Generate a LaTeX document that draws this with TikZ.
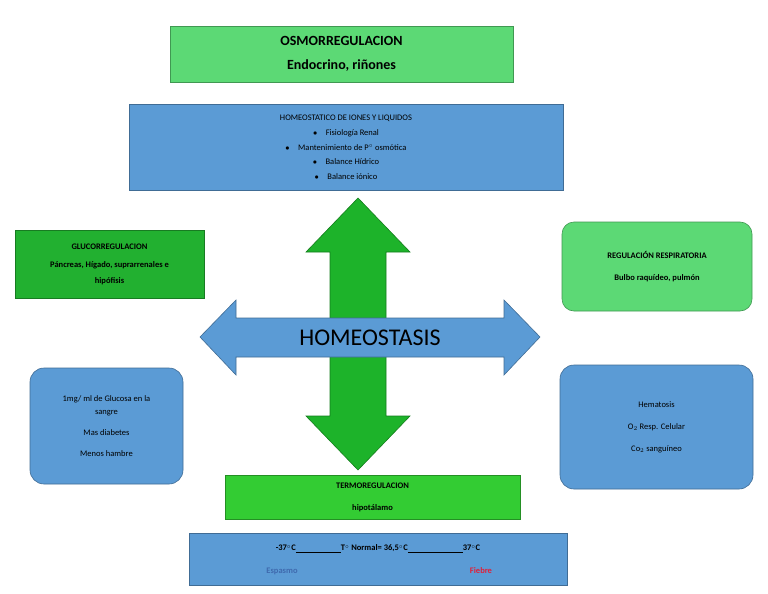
\documentclass[tikz,border=0pt]{standalone}
\usepackage{fontspec}
\setmainfont{Carlito}
\begin{document}
\begin{tikzpicture}[x=1pt,y=-1pt,
 box/.style={draw=#1!70!black,line width=0.6pt,fill=#1,align=center,inner sep=0pt},
 sm/.style={font=\fontsize{9}{13}\selectfont},
]
\definecolor{gA}{HTML}{5CD975}
\definecolor{gB}{HTML}{22B030}
\definecolor{gC}{HTML}{33CC33}
\definecolor{bl}{HTML}{5B9BD5}
\definecolor{ar}{HTML}{1DB32A}
\definecolor{fb}{HTML}{E0203A}
\definecolor{es}{HTML}{3F6AAE}
\useasboundingbox (0,0) rectangle (768,594);
\fill[white] (0,0) rectangle (768,594);
% boxes
\node[box=gA,minimum width=343pt,minimum height=56pt,font=\bfseries\fontsize{14}{24}\selectfont] (osmo) at (341.5,54) {OSMORREGULACION\\Endocrino, riñones};
\node[box=bl,minimum width=434pt,minimum height=86pt,sm] (homi) at (346,147) {};
\node[sm,align=center,font=\fontsize{8.5}{14.5}\selectfont] (homit) at (346,147) {HOMEOSTATICO DE IONES Y LIQUIDOS\\[1pt]
$\bullet$\quad Fisiología Renal\\$\bullet$\quad Mantenimiento de P$^{\circ}$ osmótica\\$\bullet$\quad Balance Hídrico\\$\bullet$\quad Balance iónico};
\node[box=gB,minimum width=189pt,minimum height=68pt,sm,font=\bfseries\fontsize{8.5}{16}\selectfont] (glu) at (109.5,264) {GLUCORREGULACION\\[2pt]Páncreas, Hígado, suprarrenales e\\hipófisis};
\node[box=gA,rounded corners=12pt,minimum width=190pt,minimum height=89pt,font=\bfseries\fontsize{8.5}{22}\selectfont] (resp) at (657,266.5) {REGULACIÓN RESPIRATORIA\\Bulbo raquídeo, pulmón};
\node[box=bl,rounded corners=14pt,minimum width=153pt,minimum height=116pt,font=\fontsize{8.5}{13}\selectfont] (glc) at (106.5,426) {1mg/ ml de Glucosa en la\\sangre\\[8pt]Mas diabetes\\[8pt]Menos hambre};
\node[box=bl,rounded corners=14pt,minimum width=193pt,minimum height=124pt,font=\fontsize{8.5}{22}\selectfont] (hem) at (656.5,427) {Hematosis\\O$_2$ Resp. Celular\\Co$_2$ sanguíneo};
\node[box=gC,minimum width=295pt,minimum height=44pt,font=\bfseries\fontsize{8.5}{22}\selectfont] (termo) at (372.5,497) {TERMOREGULACION\\hipotálamo};
\node[box=bl,minimum width=378pt,minimum height=52pt,font=\bfseries\fontsize{8.5}{22}\selectfont] (temp) at (378,559) {};
\node[font=\bfseries\fontsize{8.5}{10}\selectfont] (t1) at (378,549) {-37$^{\circ}$C\underline{\hspace{45pt}}T$^{\circ}$ Normal= 36,5$^{\circ}$C\underline{\hspace{55pt}}37$^{\circ}$C};
\node[font=\bfseries\fontsize{8.5}{10}\selectfont,text=es] (esp) at (282,571) {Espasmo};
\node[font=\bfseries\fontsize{8.5}{10}\selectfont,text=fb] (fie) at (481,571) {Fiebre};
% vertical arrow
\filldraw[fill=ar,draw=ar!70!black,line width=0.6pt] (358,198) -- (410,252) -- (386,252) -- (386,416) -- (410,416) -- (358,470) -- (306,416) -- (330,416) -- (330,252) -- (306,252) -- cycle;
% horizontal arrow
\filldraw[fill=bl,draw=bl!70!black,line width=0.6pt] (200,337) -- (236,300) -- (236,318) -- (504,318) -- (504,300) -- (540,337) -- (504,375) -- (504,357) -- (236,357) -- (236,375) -- cycle;
\node[font=\fontsize{24}{24}\selectfont] (homeo) at (370,338) {HOMEOSTASIS};
\end{tikzpicture}
\end{document}
